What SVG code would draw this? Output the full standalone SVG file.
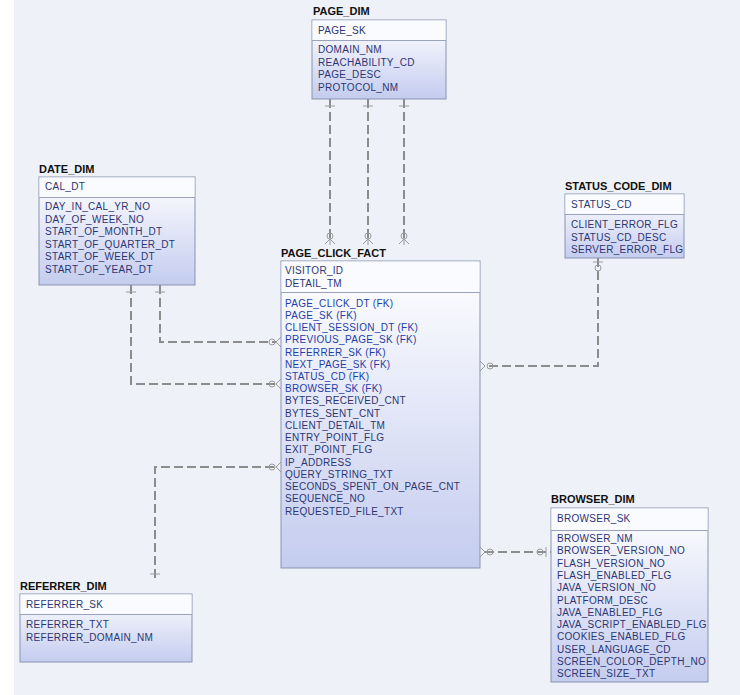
<svg xmlns="http://www.w3.org/2000/svg" width="740" height="695" viewBox="0 0 740 695">
<style>
.bx{fill:url(#g);stroke:#8a93b0;stroke-width:1}
.hd{fill:#fafbff}
.sep{stroke:#9aa2bc;stroke-width:1}
.t{font-family:"Liberation Sans",Arial,sans-serif;font-size:11px;font-weight:bold;fill:#111}
.r{font-family:"Liberation Sans",Arial,sans-serif;font-size:10px;fill:#2c3672;letter-spacing:0.3px}
.fk{fill:#1f3ea6}
.c{fill:none;stroke:#8c8c8c;stroke-width:2;stroke-dasharray:9,4}
.sym{fill:none;stroke:#9a9a9a;stroke-width:1}
.sh{fill:none;stroke:#b8bfd0;stroke-width:2;stroke-dasharray:1,1}
</style>
<defs>
<linearGradient id="g" x1="0" y1="0" x2="0" y2="1"><stop offset="0" stop-color="#ffffff"/><stop offset="1" stop-color="#c4ccef"/></linearGradient>
</defs>
<rect width="740" height="695" fill="#fff"/>
<rect x="14" y="0" width="726" height="695" fill="#eef2f8"/>

<g id="connectors">
<path class="c" d="M330 99V240M368 99V240M404 99V240"/>
<path class="c" d="M131 285V384H276M160 285V342H276"/>
<path class="c" d="M598 258V366H485"/>
<path class="c" d="M485 552H551"/>
<path class="c" d="M155 578V467H276"/>
<g class="sym">
<path d="M325 106h10M363 106h10M399 106h10"/>
<circle cx="330" cy="236" r="3"/><path d="M325 244l5-5 5 5M330 239v6"/>
<circle cx="368" cy="236" r="3"/><path d="M363 244l5-5 5 5M368 239v6"/>
<circle cx="404" cy="236" r="3"/><path d="M399 244l5-5 5 5M404 239v6"/>
<path d="M126 292h10M155 292h10"/>
<circle cx="272" cy="342" r="3"/><path d="M281 337l-5 5 5 5"/>
<circle cx="272" cy="384" r="3"/><path d="M281 379l-5 5 5 5"/>
<circle cx="272" cy="467" r="3"/><path d="M281 462l-5 5 5 5"/>
<path d="M150 574h10"/>
<circle cx="598" cy="268" r="3"/><path d="M593 262h10"/>
<circle cx="490" cy="366" r="3"/><path d="M480 361l5 5-5 5"/>
<circle cx="490" cy="552" r="3"/><path d="M480 547l5 5-5 5"/>
<circle cx="540" cy="552" r="3"/><path d="M546 547v10"/>
</g>
</g>

<g id="PAGE_DIM">
<text class="t" x="313" y="15">PAGE_DIM</text>
<rect class="bx" x="312" y="20" width="134" height="79"/>
<rect class="hd" x="312.5" y="20.5" width="133" height="20"/>
<line class="sep" x1="312" y1="40.5" x2="446" y2="40.5"/>
<text class="r" x="318" y="34">PAGE_SK</text>
<text class="r" x="318" y="53">DOMAIN_NM</text>
<text class="r" x="318" y="65.5">REACHABILITY_CD</text>
<text class="r" x="318" y="78">PAGE_DESC</text>
<text class="r" x="318" y="90.5">PROTOCOL_NM</text>
</g>

<g id="DATE_DIM">
<text class="t" x="39" y="173">DATE_DIM</text>
<rect class="bx" x="39" y="177" width="156" height="108"/>
<rect class="hd" x="39.5" y="177.5" width="155" height="20"/>
<line class="sep" x1="39" y1="197.5" x2="195" y2="197.5"/>
<text class="r" x="45" y="190">CAL_DT</text>
<text class="r" x="45" y="210">DAY_IN_CAL_YR_NO</text>
<text class="r" x="45" y="222.5">DAY_OF_WEEK_NO</text>
<text class="r" x="45" y="235">START_OF_MONTH_DT</text>
<text class="r" x="45" y="247.5">START_OF_QUARTER_DT</text>
<text class="r" x="45" y="260">START_OF_WEEK_DT</text>
<text class="r" x="45" y="272.5">START_OF_YEAR_DT</text>
</g>

<g id="PAGE_CLICK_FACT">
<text class="t" x="281" y="257">PAGE_CLICK_FACT</text>
<rect class="bx" x="281" y="261" width="199" height="307"/>
<rect class="hd" x="281.5" y="261.5" width="198" height="31"/>
<line class="sep" x1="281" y1="292.5" x2="480" y2="292.5"/>
<text class="r" x="285" y="274">VISITOR_ID</text>
<text class="r" x="285" y="287">DETAIL_TM</text>
<text class="r fk" x="285" y="306.5">PAGE_CLICK_DT (FK)</text>
<text class="r fk" x="285" y="318.7">PAGE_SK (FK)</text>
<text class="r fk" x="285" y="331">CLIENT_SESSION_DT (FK)</text>
<text class="r fk" x="285" y="343.2">PREVIOUS_PAGE_SK (FK)</text>
<text class="r fk" x="285" y="355.5">REFERRER_SK (FK)</text>
<text class="r fk" x="285" y="367.7">NEXT_PAGE_SK (FK)</text>
<text class="r fk" x="285" y="379.9">STATUS_CD (FK)</text>
<text class="r fk" x="285" y="392.2">BROWSER_SK (FK)</text>
<text class="r" x="285" y="404.4">BYTES_RECEIVED_CNT</text>
<text class="r" x="285" y="416.6">BYTES_SENT_CNT</text>
<text class="r" x="285" y="428.9">CLIENT_DETAIL_TM</text>
<text class="r" x="285" y="441.1">ENTRY_POINT_FLG</text>
<text class="r" x="285" y="453.4">EXIT_POINT_FLG</text>
<text class="r" x="285" y="465.6">IP_ADDRESS</text>
<text class="r" x="285" y="477.8">QUERY_STRING_TXT</text>
<text class="r" x="285" y="490.1">SECONDS_SPENT_ON_PAGE_CNT</text>
<text class="r" x="285" y="502.3">SEQUENCE_NO</text>
<text class="r" x="285" y="514.6">REQUESTED_FILE_TXT</text>
</g>

<g id="STATUS_CODE_DIM">
<text class="t" x="565" y="190">STATUS_CODE_DIM</text>
<rect class="bx" x="565" y="194" width="119" height="64"/>
<rect class="hd" x="565.5" y="194.5" width="118" height="20"/>
<line class="sep" x1="565" y1="214.5" x2="684" y2="214.5"/>
<text class="r" x="571" y="208">STATUS_CD</text>
<text class="r" x="571" y="228">CLIENT_ERROR_FLG</text>
<text class="r" x="571" y="240.5">STATUS_CD_DESC</text>
<text class="r" x="571" y="253">SERVER_ERROR_FLG</text>
</g>

<g id="BROWSER_DIM">
<text class="t" x="551" y="503">BROWSER_DIM</text>
<rect class="bx" x="551" y="508" width="157" height="174"/>
<rect class="hd" x="551.5" y="508.5" width="156" height="22"/>
<line class="sep" x1="551" y1="530.5" x2="708" y2="530.5"/>
<text class="r" x="557" y="522">BROWSER_SK</text>
<text class="r" x="557" y="542">BROWSER_NM</text>
<text class="r" x="557" y="554.3">BROWSER_VERSION_NO</text>
<text class="r" x="557" y="566.6">FLASH_VERSION_NO</text>
<text class="r" x="557" y="578.9">FLASH_ENABLED_FLG</text>
<text class="r" x="557" y="591.2">JAVA_VERSION_NO</text>
<text class="r" x="557" y="603.5">PLATFORM_DESC</text>
<text class="r" x="557" y="615.8">JAVA_ENABLED_FLG</text>
<text class="r" x="557" y="628.1">JAVA_SCRIPT_ENABLED_FLG</text>
<text class="r" x="557" y="640.4">COOKIES_ENABLED_FLG</text>
<text class="r" x="557" y="652.7">USER_LANGUAGE_CD</text>
<text class="r" x="557" y="665">SCREEN_COLOR_DEPTH_NO</text>
<text class="r" x="557" y="677.3">SCREEN_SIZE_TXT</text>
</g>

<g id="REFERRER_DIM">
<text class="t" x="20" y="590">REFERRER_DIM</text>
<rect class="bx" x="20" y="594" width="172" height="68"/>
<rect class="hd" x="20.5" y="594.5" width="171" height="20"/>
<line class="sep" x1="20" y1="614.5" x2="192" y2="614.5"/>
<text class="r" x="26" y="608">REFERRER_SK</text>
<text class="r" x="26" y="628">REFERRER_TXT</text>
<text class="r" x="26" y="640.5">REFERRER_DOMAIN_NM</text>
</g>
</svg>
